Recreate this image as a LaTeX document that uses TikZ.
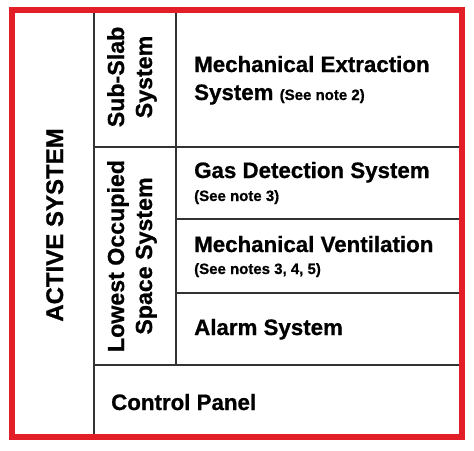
\documentclass[tikz,border=0pt]{standalone}
\usepackage{fontspec}
\setmainfont{Liberation Sans}[BoldFeatures={FakeBold=0.8}]
\usepackage{tikz}

\definecolor{framered}{RGB}{226,30,38}
\newcommand{\notesize}{\fontsize{15}{18}\selectfont\bfseries}

\begin{document}
\begin{tikzpicture}[x=1pt,y=-1pt,text centered,
    cellline/.style={black!80,line width=1.5pt},
    bigtext/.style={font=\fontsize{22.3}{28}\selectfont\bfseries,inner sep=0pt},
    sidetext/.style={font=\fontsize{23.2}{28}\selectfont\bfseries,inner sep=0pt,rotate=90,anchor=base},
    notetext/.style={font=\notesize,inner sep=0pt}]

  \useasboundingbox (0,0) rectangle (474,450);

  % cell boundaries
  \draw[cellline] (94,10) -- (94,437);
  \draw[cellline] (176,10) -- (176,365);
  \draw[cellline] (94,147) -- (462,147);
  \draw[cellline] (176,219) -- (462,219);
  \draw[cellline] (176,293) -- (462,293);
  \draw[cellline] (94,365) -- (462,365);

  \draw[framered,line width=5.5pt] (12,10) rectangle (462,437);

  % left column
  \node (ACTV) at (63,225) [sidetext,font=\fontsize{24}{28}\selectfont\bfseries]  {ACTIVE SYSTEM};

  \node (SUB1) at (124,77) [sidetext]  {Sub-Slab};
  \node (SUB2) at (152,77) [sidetext]  {System};

  \node (LOW1) at (124,256) [sidetext]  {Lowest Occupied};
  \node (LOW2) at (152,256) [sidetext]  {Space System};

  % right column
  \node (MEX1) at (194,72) [bigtext,anchor=base west]  {Mechanical Extraction};
  \node (MEX2) at (194,100) [bigtext,anchor=base west]  {System {\notesize(See note 2)}};

  \node (GAS1) at (194,178) [bigtext,anchor=base west]  {Gas Detection System};
  \node (GAS2) at (194,201) [notetext,anchor=base west]  {(See note 3)};

  \node (MVE1) at (194,252) [bigtext,anchor=base west]  {Mechanical Ventilation};
  \node (MVE2) at (194,274) [notetext,anchor=base west]  {(See notes 3, 4, 5)};

  \node (ALRM) at (194,335) [bigtext,anchor=base west]  {Alarm System};

  \node (CTRL) at (111,410) [bigtext,anchor=base west]  {Control Panel};

\end{tikzpicture}
\end{document}
